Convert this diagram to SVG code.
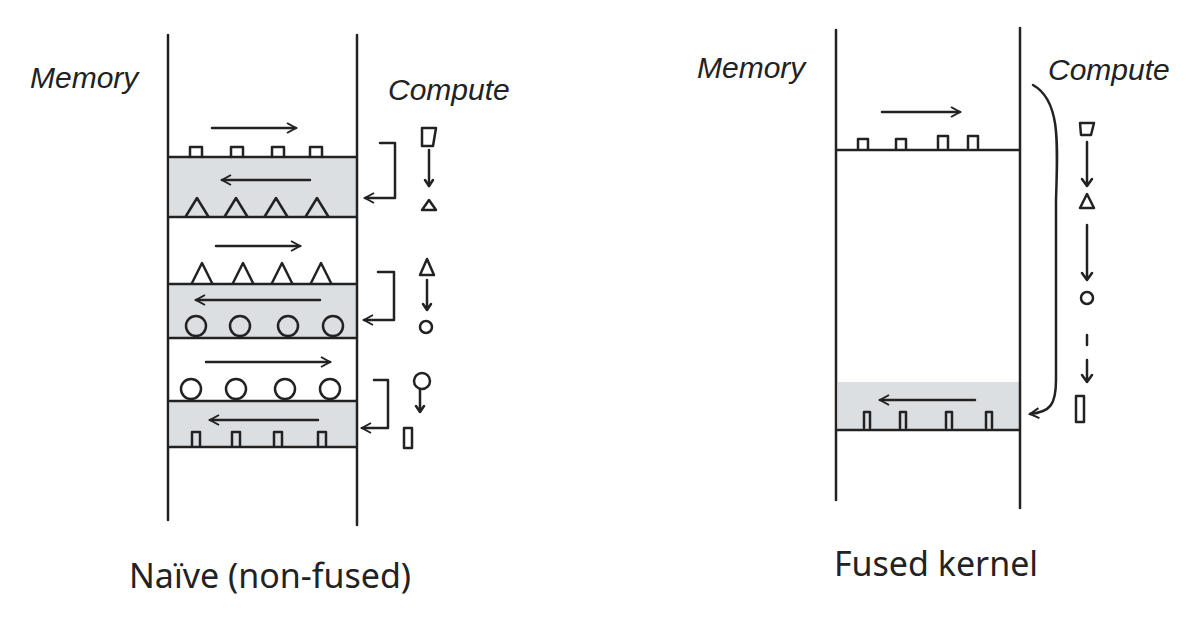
<svg xmlns="http://www.w3.org/2000/svg" width="1200" height="617" viewBox="0 0 1200 617">
<style>
.l{stroke:#222;stroke-width:2.5;fill:none;stroke-linecap:round;stroke-linejoin:round}
.b{fill:#dcdfe1}
.h{font-family:"Liberation Sans",sans-serif;font-style:italic;font-size:30px;fill:#222}
.t{font-family:"Noto Sans",sans-serif;font-size:34px;fill:#222;text-anchor:middle}
</style>
<defs><marker id="a" markerWidth="12" markerHeight="12" refX="10" refY="6" orient="auto" markerUnits="userSpaceOnUse"><path d="M1,1 L10,6 L1,11" fill="none" stroke="#222" stroke-width="2"/></marker></defs>
<rect width="1200" height="617" fill="#fff"/>
<g id="left">
<rect class="b" x="170" y="158" width="187" height="58"/>
<rect class="b" x="170" y="284" width="187" height="54"/>
<rect class="b" x="170" y="402" width="187" height="45"/>
<path class="l" d="M168,35 V520 M357,35 V525 M170,157 H357 M170,217 H357 M170,284 H357 M170,338 H357 M170,401 H357 M170,447 H357"/>
<text class="h" x="30" y="88">Memory</text>
<text class="h" x="388" y="100">Compute</text>
<path class="l" d="M190,157 v-10 h12 v10 M231,157 v-10 h12 v10 M272,157 v-10 h12 v10 M310,157 v-10 h12 v10"/>
<path class="l" d="M212,128 H296" marker-end="url(#a)"/>
<path class="l" d="M310,180 H222" marker-end="url(#a)"/>
<path class="l" d="M186,216 l11,-18 l11,18 M225,216 l11,-18 l11,18 M265,216 l11,-18 l11,18 M306,216 l11,-18 l11,18"/>
<path class="l" d="M216,246 H300" marker-end="url(#a)"/>
<path class="l" d="M192,283 l10,-20 l10,20 M233,283 l10,-20 l10,20 M272,283 l10,-20 l10,20 M311,283 l10,-20 l10,20"/>
<path class="l" d="M320,300 H196" marker-end="url(#a)"/>
<circle class="l" cx="196" cy="326" r="10"/><circle class="l" cx="240" cy="326" r="10"/><circle class="l" cx="288" cy="326" r="10"/><circle class="l" cx="333" cy="326" r="10"/>
<path class="l" d="M206,362 H330" marker-end="url(#a)"/>
<circle class="l" cx="191" cy="389" r="10"/><circle class="l" cx="236" cy="389" r="10"/><circle class="l" cx="285" cy="389" r="10"/><circle class="l" cx="330" cy="389" r="10"/>
<path class="l" d="M318,420 H210" marker-end="url(#a)"/>
<path class="l" d="M192,446 v-14 h8 v14 M232,446 v-14 h8 v14 M274,446 v-14 h8 v14 M318,446 v-14 h8 v14"/>
<path class="l" d="M380,143 h15 v55 h-30" marker-end="url(#a)"/>
<path class="l" d="M378,272 h16 v48 h-30" marker-end="url(#a)"/>
<path class="l" d="M374,380 h14 v48 h-26" marker-end="url(#a)"/>
<path class="l" d="M422,128 h14 l-3,18 h-11 z M429,150 v36" />
<path class="l" d="M429,186 l-4,-6 M429,186 l4,-6 M422,210 l7,-10 l7,10 z"/>
<path class="l" d="M420,275 l7,-16 l7,16 z M427,280 v30 M427,310 l-4,-6 M427,310 l4,-6"/>
<circle class="l" cx="426" cy="327" r="6"/>
<circle class="l" cx="422" cy="381" r="8"/>
<path class="l" d="M420,390 v22 M420,412 l-4,-6 M420,412 l4,-6 M404,428 h8 v20 h-8 z"/>
<text class="t" x="270" y="588">Naïve (non-fused)</text>
</g>
<g id="right">
<rect class="b" x="838" y="382" width="182" height="48"/>
<path class="l" d="M836,30 V500 M1020,28 V508 M838,150 H1018 M838,430 H1020"/>
<text class="h" x="697" y="78">Memory</text>
<text class="h" x="1048" y="80">Compute</text>
<path class="l" d="M858,149 v-10 h10 v10 M896,149 v-10 h10 v10 M938,148 v-12 h10 v12 M968,148 v-12 h10 v12"/>
<path class="l" d="M882,112 H960" marker-end="url(#a)"/>
<path class="l" d="M975,400 H880" marker-end="url(#a)"/>
<path class="l" d="M864,428 v-16 h6 v16 M900,428 v-16 h6 v16 M946,428 v-16 h6 v16 M986,428 v-16 h6 v16"/>
<path class="l" d="M1033,85 C1060,100 1058,140 1056,200 V380 C1056,405 1050,412 1030,414" marker-end="url(#a)"/>
<path class="l" d="M1080,123 h14 l-3,12 h-10 z M1087,142 v44 M1087,186 l-5,-7 M1087,186 l5,-7 M1080,208 l7,-14 l7,14 z"/>
<path class="l" d="M1087,225 v55 M1087,280 l-5,-7 M1087,280 l5,-7"/>
<circle class="l" cx="1087" cy="298" r="6"/>
<path class="l" d="M1087,335 v10 M1087,360 v22 M1087,382 l-5,-7 M1087,382 l5,-7 M1076,396 h8 v26 h-8 z"/>
<text class="t" x="936" y="576">Fused kernel</text>
</g>
</svg>
